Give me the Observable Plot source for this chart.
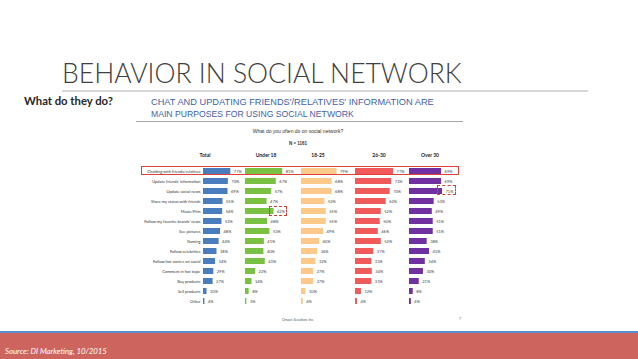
<!DOCTYPE html>
<html><head><meta charset="utf-8">
<script src="https://cdn.jsdelivr.net/npm/d3@7"></script>
<script src="https://cdn.jsdelivr.net/npm/@observablehq/plot@0.6"></script>
<style>
html,body{margin:0;padding:0;background:#fff;}
#slide{position:relative;width:638px;height:359px;overflow:hidden;background:#fff;font-family:Lato,"Open Sans",sans-serif;}
.abs{position:absolute;white-space:nowrap;line-height:1;}
.plotbox{position:absolute;}
.plotbox svg{overflow:visible;}
</style></head><body>
<div id="slide"></div>
<script>
const categories = ["Chatting with friends/relatives","Update friends' information","Update social news","Share my status with friends","Music/Film","Follow my favorite brands' news","See pictures","Gaming","Follow celebrities","Follow hot stories on social","Comment in hot topic","Buy products","Sell products","Other"];
const groups = ["Total","Under 18","18-25","26-30","Over 30"];
const totalValues   = [77,70,69,55,54,52,48,44,38,34,29,27,10,4];
const under18Values = [81,67,57,47,62,48,53,41,40,43,22,14,8,3];
const age1825Values = [79,68,68,52,55,55,49,40,36,32,27,27,10,4];
const age2630Values = [77,73,70,62,52,50,46,52,37,33,34,33,12,4];
const over30Values  = [69,69,71,53,49,51,51,38,43,34,30,21,8,4];
const groupColors = ["#4a7dbd","#7ac143","#fcc98b","#f15a5a","#7030a0"];

const slide = document.getElementById("slide");

function place(text, o) {
  const d = document.createElement("div");
  d.className = "abs";
  d.textContent = text;
  d.style.fontSize = o.size + "px";
  d.style.fontWeight = o.weight || 400;
  d.style.color = o.color || "#333";
  if (o.family) d.style.fontFamily = o.family;
  if (o.italic) d.style.fontStyle = "italic";
  d.style.left = o.x + "px";
  d.style.top = o.y + "px";
  let tx = o.align === "center" ? "-50%" : (o.align === "right" ? "-100%" : "0");
  d.style.transform = `translate(${tx},-50%)`;
  slide.appendChild(d);
  if (o.fit) {
    const w = d.getBoundingClientRect().width;
    d.style.fontSize = (o.size * o.fit / w) + "px";
  }
  return d;
}
function rect(x, y, w, h, style) {
  const d = document.createElement("div");
  d.style.position = "absolute";
  d.style.left = x + "px"; d.style.top = y + "px";
  d.style.width = w + "px"; d.style.height = h + "px";
  d.style.boxSizing = "border-box";
  Object.assign(d.style, style);
  slide.appendChild(d);
  return d;
}

// Slide title and headings
place("BEHAVIOR IN SOCIAL NETWORK", {x: 62, y: 73, size: 30, weight: 300, color: "#404040", fit: 400});
rect(62, 90, 526, 1.5, {background: "#d9d9d9"});
place("What do they do?", {x: 24, y: 101, size: 11, weight: 700, color: "#262626", fit: 89});
place("CHAT AND UPDATING FRIENDS'/RELATIVES' INFORMATION ARE", {x: 151, y: 103, size: 8.5, color: "#3d5fa8", family: "Liberation Sans, Arial, sans-serif", fit: 283});
place("MAIN PURPOSES FOR USING SOCIAL NETWORK", {x: 151, y: 114, size: 8.5, color: "#3d5fa8", family: "Liberation Sans, Arial, sans-serif", fit: 203});
rect(136, 121, 327, 1, {background: "#a6a6a6"});
place("What do you often do on social network?", {x: 298, y: 131, size: 5, color: "#333", align: "center", family: "Liberation Sans, Arial, sans-serif"});
place("N = 1161", {x: 298, y: 144, size: 4.5, weight: 700, color: "#333", align: "center", family: "Liberation Sans, Arial, sans-serif"});

// Column headers
const headerX = [205, 266, 318, 379, 430];
groups.forEach((g, i) => place(g, {x: headerX[i], y: 155, size: 5, weight: 700, color: "#222", align: "center"}));

// Charts: one Plot per group
const seriesValues = [totalValues, under18Values, age1825Values, age2630Values, over30Values];
const barStart = [203, 245, 301, 355, 409];
const barLen = [35.5, 46, 45, 49.5, 46.5];
seriesValues.forEach((vals, i) => {
  const rows = categories.map((c, j) => ({category: c, value: vals[j]}));
  const ml = i === 0 ? 63 : 0;
  const mr = 20;
  const chart = Plot.plot({
    width: ml + barLen[i] + mr,
    height: 145,
    marginTop: 0, marginBottom: 0, marginLeft: ml, marginRight: mr,
    x: {domain: [0, 100], range: [ml, ml + barLen[i]], axis: null},
    y: {domain: categories, padding: 0.4, axis: i === 0 ? "left" : null, label: null, tickSize: 0, tickPadding: 3},
    style: {background: "transparent", fontSize: "4px", fontFamily: "Lato, sans-serif", color: "#333", overflow: "visible"},
    marks: [
      Plot.barX(rows, {x: "value", y: "category", fill: groupColors[i]}),
      Plot.text(rows, {x: "value", y: "category", text: d => d.value + "%", dx: 3, textAnchor: "start", fontSize: 4, fill: "#404040"})
    ]
  });
  const box = document.createElement("div");
  box.className = "plotbox";
  box.style.left = (barStart[i] - ml) + "px";
  box.style.top = "163px";
  box.appendChild(chart);
  slide.appendChild(box);
});

// Highlight boxes
rect(141, 166, 318, 9, {border: "1px solid #e0403a"});
rect(269, 206, 18, 10, {border: "1px dashed #d04030"});
rect(437, 185, 19, 10, {border: "1px dashed #d04030"});

// Chart footer
place("Orsoet Secutiare Inc.", {x: 298, y: 321, size: 3.5, color: "#555", align: "center"});
place("7", {x: 460, y: 320, size: 3.5, color: "#555", align: "center"});

// Slide footer band
rect(0, 331, 638, 2, {background: "#5b8fc9"});
rect(0, 333, 638, 26, {background: "#cd655e"});
place("Source:  DI Marketing, 10/2015", {x: 5, y: 352, size: 8, italic: true, color: "#ffffff", fit: 102});
</script>
</body></html>
